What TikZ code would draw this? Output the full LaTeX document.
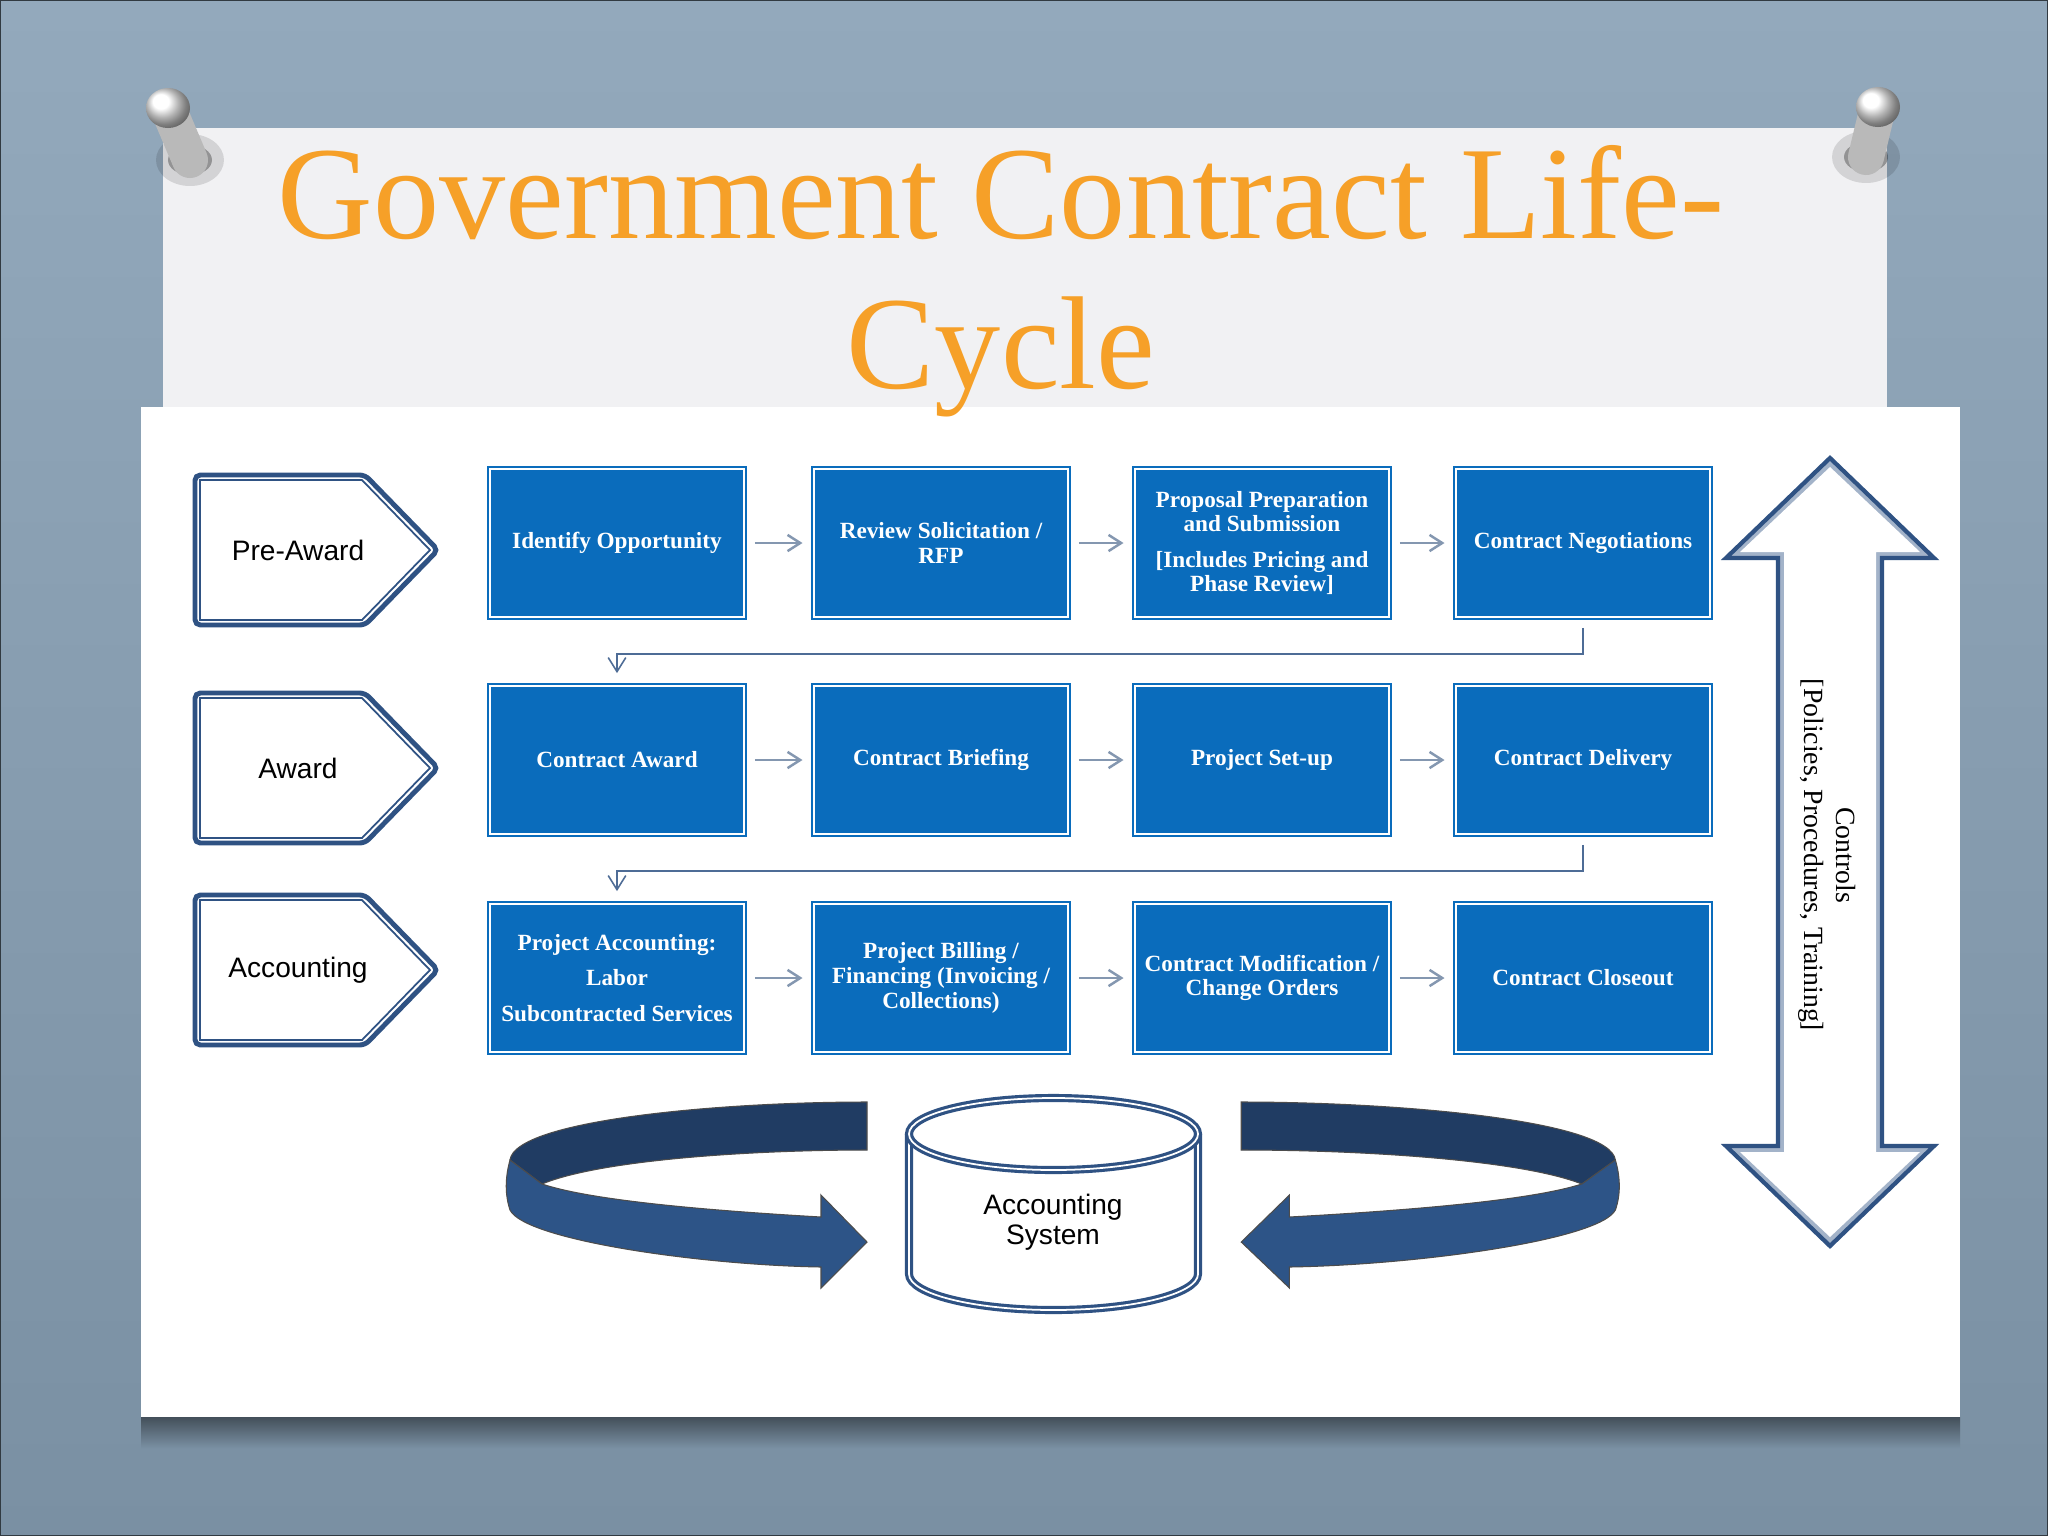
\documentclass[tikz,border=0pt]{standalone}
\usepackage{fontspec}
\setmainfont{Liberation Serif}
\setsansfont{Liberation Sans}
\usetikzlibrary{arrows.meta}

\definecolor{boardtop}{HTML}{93A9BC}
\definecolor{boardlow}{HTML}{7A90A3}
\definecolor{papergrey}{HTML}{F1F1F3}
\definecolor{titleorange}{HTML}{F6A028}
\definecolor{boxblue}{HTML}{0A6CBC}
\definecolor{stageblue}{HTML}{2F5283}
\definecolor{flowgrey}{HTML}{8497B0}
\definecolor{ribbondark}{HTML}{203C63}
\definecolor{ribbonfront}{HTML}{2D5487}
\definecolor{bandgrey}{HTML}{A3B3C9}

\tikzset{
  procbox/.style={draw=boxblue, double=white, double distance=0.6pt, line width=0.5pt,
    fill=boxblue, minimum width=2.54cm, minimum height=1.48cm, inner sep=1pt,
    text=white, align=center, font=\fontsize{6.6}{7}\selectfont\bfseries},
  stagelabel/.style={font=\sffamily\fontsize{8}{8.6}\selectfont, text=black, align=center},
  flowarrow/.style={draw=flowgrey, line width=0.7pt, -{Straight Barb[length=3.6pt,width=4.6pt]},
    shorten <=2.8pt, shorten >=3pt},
  turnarrow/.style={draw=stageblue!85, line width=0.45pt, -{Straight Barb[length=4pt,width=5pt]},
    shorten <=2.8pt, shorten >=3.4pt},
  cylline/.style={draw=stageblue, double=white, line width=0.9pt, double distance=0.5pt},
  titletext/.style={font=\fontsize{37.6}{42}\selectfont, text=titleorange, anchor=base},
}

% push pin: cap centre, foot
\newcommand{\pushpin}[4]{%
  \fill[black, opacity=.12] (#3,#4) ellipse [x radius=34, y radius=26];
  \fill[black, opacity=.3] (#3,#4) ellipse [x radius=22, y radius=15];
  \draw[gray!55, line width=0.36cm, line cap=round] (#1,#2) -- (#3,#4);
  \shade[ball color=white] (#1,#2) ellipse [x radius=22, y radius=20];
}

% curled ribbon arrow, drawn for the left side
\newcommand{\ribbonarrow}{%
  \filldraw[fill=ribbondark, draw=black!70, line width=0.3pt]
    (867,1102) .. controls (720,1102) and (515,1120) .. (510,1160)
    -- (542,1184) .. controls (600,1160) and (750,1150) .. (867,1150) -- cycle;
  \filldraw[fill=ribbonfront, draw=black!70, line width=0.3pt]
    (510,1160) .. controls (505,1178) and (505,1195) .. (510,1210)
    .. controls (525,1240) and (700,1265) .. (821,1267)
    -- (821,1288) -- (867,1242) -- (821,1195) -- (821,1217)
    .. controls (700,1210) and (590,1200) .. (542,1184) -- cycle;
}

\begin{document}
\begin{tikzpicture}[x=0.01cm, y=-0.01cm]
  \useasboundingbox (0,0) rectangle (2048,1536);
  % board and paper
  \shade[top color=boardtop, bottom color=boardlow] (0,0) rectangle (2048,1536);
  \draw[black!60!boardlow, line width=0.8pt] (0,0) rectangle (2048,1536);
  \fill[papergrey] (163,128) rectangle (1887,407);
  \pushpin{168}{108}{190}{160}
  \pushpin{1878}{107}{1866}{157}
  \shade[top color=black!45!boardlow, bottom color=boardlow] (141,1417) rectangle (1960,1448);
  \fill[white] (141,407) rectangle (1960,1417);

  % stages
  \foreach \y/\lab/\nm in {550/Pre-Award/stagepre, 768/Award/stageaward, 970/Accounting/stageacc} {
    \draw[stageblue, line width=1.4pt, rounded corners=1.5pt, fill=white]
      (195,{\y-75}) -- (365,{\y-75}) -- (438,\y) -- (365,{\y+75}) -- (195,{\y+75}) -- cycle;
    \draw[stageblue, line width=0.5pt]
      (200,{\y-70}) -- (362,{\y-70}) -- (430,\y) -- (362,{\y+70}) -- (200,{\y+70}) -- cycle;
    \node[stagelabel] (\nm) at (298,\y) {\lab};
  }

  % process boxes
  \node[procbox] (identify) at (617,543) {Identify Opportunity};
  \node[procbox] (review) at (941,543) {Review Solicitation /\\RFP};
  \node[procbox] (proposal) at (1262,543) {Proposal Preparation\\and Submission\\[3pt]{[}Includes Pricing and\\Phase Review{]}};
  \node[procbox] (negotiate) at (1583,543) {Contract Negotiations};
  \node[procbox] (contractaward) at (617,760) {Contract Award};
  \node[procbox] (briefing) at (941,760) {Contract Briefing};
  \node[procbox] (setup) at (1262,760) {Project Set-up};
  \node[procbox] (delivery) at (1583,760) {Contract Delivery};
  \node[procbox] (projacc) at (617,978) {Project Accounting:\\[3pt]Labor\\[3pt]Subcontracted Services};
  \node[procbox] (billing) at (941,978) {Project Billing /\\Financing (Invoicing /\\Collections)};
  \node[procbox] (modify) at (1262,978) {Contract Modification /\\Change Orders};
  \node[procbox] (closeout) at (1583,978) {Contract Closeout};

  \foreach \a/\b in {identify/review, review/proposal, proposal/negotiate,
                     contractaward/briefing, briefing/setup, setup/delivery,
                     projacc/billing, billing/modify, modify/closeout}
    \draw[flowarrow] (\a) -- (\b);
  \draw[turnarrow] (negotiate.south) -- ++(0,36) -| (contractaward.north);
  \draw[turnarrow] (delivery.south) -- ++(0,36) -| (projacc.north);

  % accounting system
  \ribbonarrow
  \begin{scope}[xshift=21.486cm, xscale=-1.048]
    \ribbonarrow
  \end{scope}
  \draw[cylline, fill=white] (909,1134) -- (909,1274)
    arc[start angle=180, end angle=0, x radius=144.5, y radius=36] -- (1198,1134);
  \draw[cylline, fill=white] (1053.5,1134) ellipse [x radius=144.5, y radius=36];
  \node[stagelabel] (accsys) at (1053,1222) {Accounting\\System};

  % controls arrow
  \draw[stageblue, line width=1.2pt, fill=bandgrey]
    (1830,458) -- (1934,558) -- (1882,558) -- (1882,1146) -- (1934,1146) -- (1830,1246)
    -- (1726,1146) -- (1778,1146) -- (1778,558) -- (1726,558) -- cycle;
  \fill[white]
    (1830,467) -- (1920,552) -- (1876,552) -- (1876,1152) -- (1920,1152) -- (1830,1237)
    -- (1740,1152) -- (1784,1152) -- (1784,552) -- (1740,552) -- cycle;
  \node[font=\fontsize{7.9}{9}\selectfont, align=center, rotate=-90] (controls) at (1827,855)
    {Controls\\{[}Policies, Procedures, Training{]}};

  % title
  \node[titletext] (titletop) at (1001,238) {Government Contract Life-};
  \node[titletext] (titlebottom) at (1001,388) {Cycle};
\end{tikzpicture}
\end{document}
